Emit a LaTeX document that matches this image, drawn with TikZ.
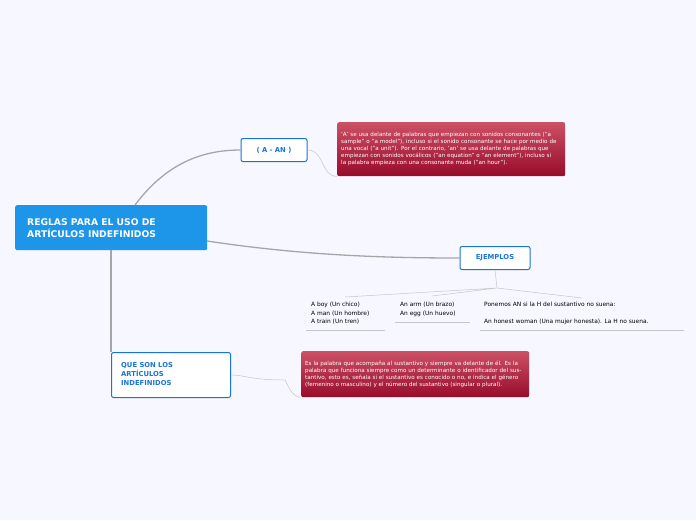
\documentclass[tikz,border=0pt]{standalone}
\usepackage{fontspec}
\setmainfont{DejaVu Sans}
\definecolor{rtop}{HTML}{CC5066}
\definecolor{rbot}{HTML}{980C2A}
\definecolor{rootc}{HTML}{1D95E8}
\definecolor{subc}{HTML}{1A73D9}
\begin{document}
\begin{tikzpicture}[x=1pt,y=-1pt,
 conn/.style={draw=gray!70,line width=1.3pt},
 thin/.style={draw=gray!45,line width=0.5pt},
 sub/.style={draw=subc,line width=1pt,fill=white,rounded corners=2pt,font=\fontsize{6.8}{8.6}\selectfont\bfseries,text=subc},
 note/.style={rounded corners=2pt,top color=rtop,bottom color=rbot,text=white,font=\fontsize{5.6}{6.9}\selectfont,align=left,inner sep=4pt},
 ex/.style={font=\fontsize{5.9}{8.5}\selectfont,align=left,anchor=north west,inner sep=0pt}]
\fill[blue!3] (0,0) rectangle (696,520);
\useasboundingbox (0,0) rectangle (696,520);
\node[fill=rootc,rounded corners=2pt,minimum width=192pt,minimum height=45pt,anchor=north west,inner sep=0pt] (root) at (15,205) {};
\node[anchor=west,text=white,font=\fontsize{9.2}{12}\selectfont\bfseries,align=left,inner sep=0pt] (roott) at (27,228) {REGLAS PARA EL USO DE\\ARTÍCULOS INDEFINIDOS};
\node[sub,minimum width=66pt,minimum height=23pt] (aan) at (274,150) {( A - AN )};
\node[sub,minimum width=70pt,minimum height=23pt] (ej) at (495,258) {EJEMPLOS};
\node[sub,minimum width=119pt,minimum height=45pt,anchor=north west] (qs) at (111,352) {};
\node[anchor=west,font=\fontsize{6.8}{8.6}\selectfont\bfseries,text=subc,align=left,inner sep=0pt] (qst) at (121,374) {QUE SON LOS\\ARTÍCULOS\\INDEFINIDOS};
\node[note,text width=220pt,anchor=north west,minimum height=54pt] (n1) at (337,122) {\raggedright\hyphenpenalty=10000 'A' se usa delante de palabras que empiezan con sonidos consonantes ("a sample" o "a model"), incluso si el sonido consonante se hace por medio de una vocal ("a unit"). Por el contrario, 'an' se usa delante de palabras que empiezan con sonidos vocálicos ("an equation" o "an element"), incluso si la palabra empieza con una consonante muda ("an hour").};
\node[note,text width=220pt,anchor=north west,minimum height=46pt] (n2) at (301,351) {\raggedright\hyphenpenalty=10000 Es la palabra que acompaña al sustantivo y siempre va delante de él. Es la palabra que funciona siempre como un determinante o identificador del sustantivo, esto es, señala si el sustantivo es conocido o no, e indica el género (femenino o masculino) y el número del sustantivo (singular o plural).};
\node[ex] (e1) at (311,302) {A boy (Un chico)\\A man (Un hombre)\\A train (Un tren)};
\node[ex] (e2) at (400,302) {An arm (Un brazo)\\An egg (Un huevo)};
\node[ex] (e3) at (484,302) {Ponemos AN si la H del sustantivo no suena:\\[8.5pt]An honest woman (Una mujer honesta). La H no suena.};
\coordinate (j) at (497,288);
\draw[thin] (306,330)--(385,330) (395,322)--(470,322) (480,330)--(684,330);
\draw[thin] (ej.south)--(j) (j)--(345,297) (j)--(432,296) (j)--(582,298);
\draw[conn] (135,205) .. controls (165,165) and (200,150) .. (aan.west);
\draw[conn] (207,241) .. controls (300,255) and (380,258) .. (ej.west);
\draw[conn] (111,250)--(qs.north west);
\draw[thin] (aan.east) .. controls (325,150) and (320,176) .. (n1.south west);
\draw[thin] (qs.east) .. controls (245,375) and (250,380) .. (285,380) .. controls (290,390) and (293,397) .. (n2.south west);
\end{tikzpicture}
\end{document}
